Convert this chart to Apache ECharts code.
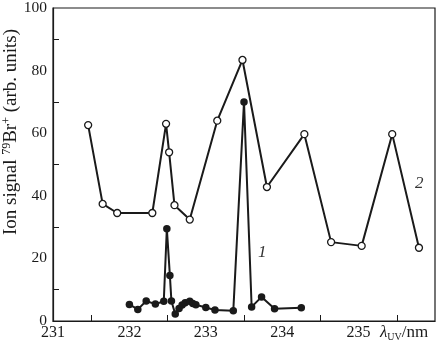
<!DOCTYPE html>
<html><head><meta charset="utf-8">
<script src="https://cdn.jsdelivr.net/npm/echarts@6/dist/echarts.min.js"></script>
<style>html,body{margin:0;padding:0;background:#fff}#c{width:442px;height:345px}</style>
</head><body><div id="c"></div>
<script>
// Series 1 (filled circles)
const s1X = [232.00, 232.11, 232.22, 232.34, 232.45, 232.49, 232.53, 232.55, 232.60, 232.65, 232.69, 232.73, 232.79, 232.83, 232.87, 233.00, 233.12, 233.36, 233.50, 233.60, 233.73, 233.90, 234.25];
const s1Y = [5.3, 3.7, 6.4, 5.4, 6.3, 29.5, 14.5, 6.4, 2.2, 4.0, 5.1, 5.8, 6.3, 5.6, 5.2, 4.3, 3.5, 3.3, 70, 4.5, 7.7, 3.9, 4.2];
// Series 2 (open circles)
const s2X = [231.46, 231.65, 231.84, 232.30, 232.48, 232.52, 232.59, 232.79, 233.15, 233.48, 233.80, 234.29, 234.64, 235.04, 235.44, 235.79];
const s2Y = [62.6, 37.4, 34.5, 34.5, 63, 53.9, 37, 32.4, 64, 83.4, 42.8, 59.7, 25.2, 24, 59.7, 23.4];
const xTickLabels = ['231', '232', '233', '234', '235'];
const yTickLabels = ['0', '20', '40', '60', '80', '100'];

const F = 'Liberation Serif, Times New Roman, serif';
const C = '#1a1a1a';
const chart = echarts.init(document.getElementById('c'));
const zip = (a, b) => a.map((v, i) => [v, b[i]]);
chart.setOption({
  animation: false,
  grid: { left: 53, right: 7, top: 5, bottom: 24, show: true, borderColor: C, borderWidth: 1.2, backgroundColor: 'transparent' },
  xAxis: {
    type: 'value', min: 231, max: 236, interval: 1,
    axisLine: { lineStyle: { color: C, width: 1.2 } },
    axisTick: { show: false, inside: true },
    minorTick: { show: true, splitNumber: 2, length: 6, lineStyle: { color: C, width: 1 } },
    splitLine: { show: false },
    axisLabel: { fontFamily: F, fontSize: 16, color: C, margin: 4,
      formatter: v => xTickLabels.includes(String(v)) ? String(v) : '' }
  },
  yAxis: {
    type: 'value', min: 0, max: 100, interval: 20,
    axisLine: { lineStyle: { color: C, width: 1.2 } },
    axisTick: { show: false, inside: true },
    minorTick: { show: true, splitNumber: 2, length: 6, lineStyle: { color: C, width: 1 } },
    splitLine: { show: false },
    axisLabel: { fontFamily: F, fontSize: 15.5, color: C, margin: 6,
      formatter: v => yTickLabels.includes(String(v)) ? String(v) : '' }
  },
  graphic: [
    { type: 'text', rotation: Math.PI / 2, position: [11, 132], style: {
        text: '{a|Ion signal }{s|79}{a|Br}{s|+}{a| (arb. units)}',
        fontFamily: F, fill: C, align: 'center', verticalAlign: 'middle',
        rich: { a: { fontFamily: F, fontSize: 19, color: C },
                s: { fontFamily: F, fontSize: 12, color: C, padding: [0, 0, 9, 0] } }
      } },
    { type: 'text', position: [380, 333], style: {
        text: '{l|λ}{u|UV}{m|/nm}', fontFamily: F, fill: C, verticalAlign: 'middle',
        rich: { l: { fontFamily: F, fontSize: 17, fontStyle: 'italic', color: C },
                u: { fontFamily: F, fontSize: 10, color: C, padding: [9, 0, 0, 0] },
                m: { fontFamily: F, fontSize: 17, color: C } }
      } },
    { type: 'text', position: [258, 253], style: { text: '1', font: 'italic 17px ' + F, fill: '#333', verticalAlign: 'middle' } },
    { type: 'text', position: [415, 184], style: { text: '2', font: 'italic 17px ' + F, fill: '#333', verticalAlign: 'middle' } }
  ],
  series: [
    { type: 'line', data: zip(s2X, s2Y), symbol: 'circle', symbolSize: 7,
      lineStyle: { color: C, width: 2 },
      itemStyle: { color: '#fff', borderColor: C, borderWidth: 1.3 }, z: 2 },
    { type: 'line', data: zip(s1X, s1Y), symbol: 'circle', symbolSize: 7.5,
      lineStyle: { color: C, width: 2 },
      itemStyle: { color: C, borderColor: C, borderWidth: 0 }, z: 3 }
  ]
});
</script></body></html>
